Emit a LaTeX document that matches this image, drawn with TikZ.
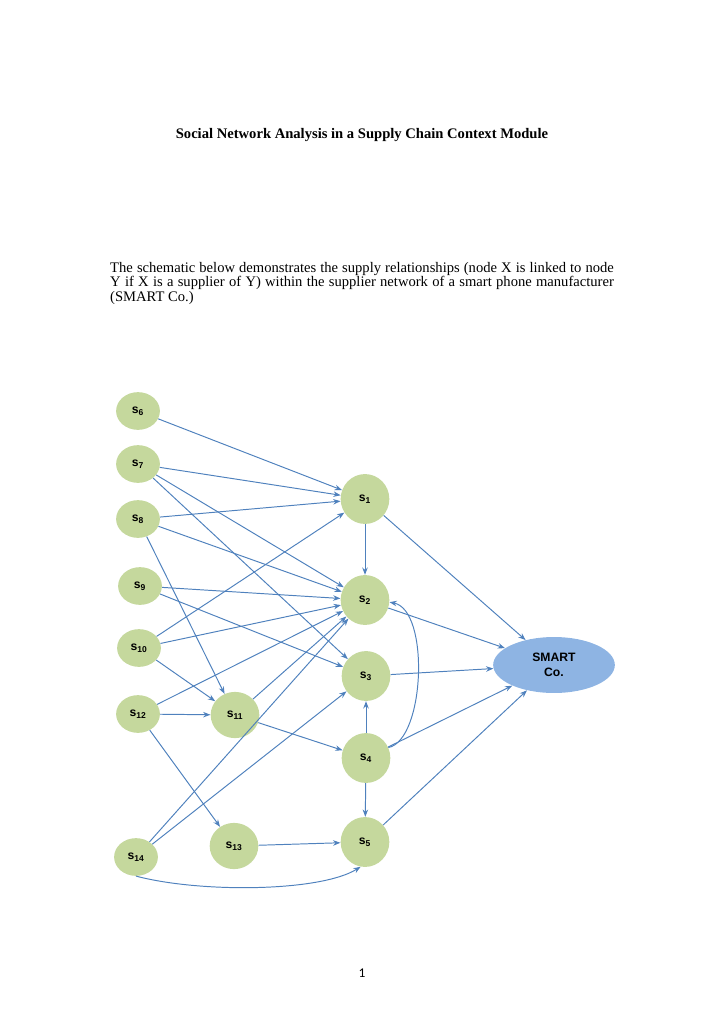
\documentclass[tikz,border=0pt]{standalone}
\usepackage{fontspec}
\setmainfont{Liberation Serif}
\newfontfamily\arialf{Liberation Sans}
\newfontfamily\calf{Carlito}
\usetikzlibrary{arrows.meta,shapes.geometric}
\definecolor{ngreen}{RGB}{197,216,157}
\definecolor{eblue}{RGB}{79,129,189}
\definecolor{sblue}{RGB}{142,180,227}
\tikzset{
 sn/.style={ellipse,fill=ngreen,minimum width=#1,minimum height=#1,inner sep=0pt,font=\arialf\bfseries\fontsize{10}{12}\selectfont},
 sn/.default=38pt,
 ed/.style={draw=eblue,line width=0.8pt,-{Stealth[length=6pt,width=4.5pt]}}
}
\newcommand{\snl}[1]{s\textsubscript{#1}}
\begin{document}
\begin{tikzpicture}[x=0.822pt,y=-0.822pt]
\useasboundingbox (0,0) rectangle (724,1024);
\node (title) at (362,135) {\fontsize{12}{14}\selectfont\bfseries Social Network Analysis in a Supply Chain Context Module};
\node[anchor=north west,text width=414pt,align=justify,inner sep=0pt] (para) at (110,262) {\fontsize{12}{24}\selectfont The schematic below demonstrates the supply relationships (node X is linked to node Y if X is a supplier of Y) within the supplier network of a smart phone manufacturer (SMART Co.)};
\node (pg) at (362,973) {\calf\fontsize{11}{13}\selectfont 1};
\node[sn=36pt,minimum height=31pt] (s6) at (138,411) {\snl{6}};
\node[sn=36pt,minimum height=31pt] (s7) at (138,464) {\snl{7}};
\node[sn=36pt,minimum height=31pt] (s8) at (138,519) {\snl{8}};
\node[sn=36pt,minimum height=31pt] (s9) at (140,586) {\snl{9}};
\node[sn=36pt,minimum height=31pt] (s10) at (139,648) {\snl{10}};
\node[sn=36pt,minimum height=31pt] (s12) at (138,714) {\snl{12}};
\node[sn=36pt,minimum height=31pt] (s14) at (136,857) {\snl{14}};
\node[sn=40pt,minimum height=38pt] (s11) at (235,715) {\snl{11}};
\node[sn=40pt,minimum height=38pt] (s13) at (234,846) {\snl{13}};
\node[sn=40pt,minimum height=41pt] (s1) at (365,499) {\snl{1}};
\node[sn=40pt,minimum height=41pt] (s2) at (365,600) {\snl{2}};
\node[sn=40pt,minimum height=41pt] (s3) at (366,676) {\snl{3}};
\node[sn=40pt,minimum height=41pt] (s4) at (366,758) {\snl{4}};
\node[sn=40pt,minimum height=41pt] (s5) at (365,842) {\snl{5}};
\node[ellipse,fill=sblue,minimum width=100pt,minimum height=46pt,inner sep=0pt,align=center,font=\arialf\bfseries\fontsize{10}{12}\selectfont] (smart) at (554,665) {SMART\\Co.};
\foreach \a/\b in {s6/s1,s7/s1,s7/s2,s7/s3,s8/s1,s8/s2,s8/s11,s9/s2,s9/s3,s10/s1,s10/s2,s10/s11,s12/s2,s12/s11,s12/s13,s11/s2,s11/s4,s14/s2,s14/s3,s13/s5,s1/s2,s1/smart,s2/smart,s3/smart,s4/s3,s4/s5,s4/smart,s5/smart}
  \draw[ed] (\a) -- (\b);
\draw[ed] (s4.25) .. controls (425,740) and (430,610) .. (s2.-5);
\draw[ed] (s14.south) .. controls (200,893) and (320,892) .. (s5.-100);
\end{tikzpicture}
\end{document}
